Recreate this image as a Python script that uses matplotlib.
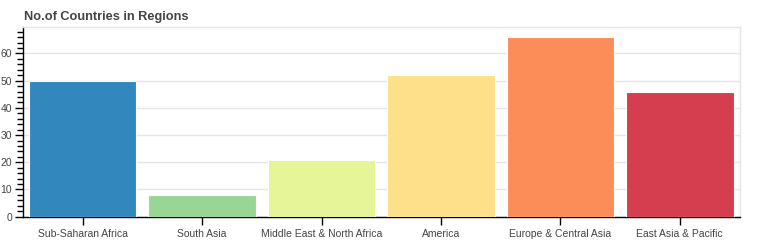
import matplotlib
matplotlib.use("Agg")
import matplotlib.pyplot as plt
from matplotlib.ticker import MultipleLocator

regions = ["Sub-Saharan Africa", "South Asia", "Middle East & North Africa",
           "America", "Europe & Central Asia", "East Asia & Pacific"]
counts = [50, 8, 21, 52, 66, 46]
colors = ["#3288bd", "#99d594", "#e6f598", "#fee08b", "#fc8d59", "#d53e4f"]
title = "No.of Countries in Regions"

plt.rcParams["font.family"] = ["Liberation Sans", "DejaVu Sans"]

fig = plt.figure(figsize=(7.68, 2.4), dpi=100)
ax = fig.add_axes([23 / 768, 23.3 / 240, (739.5 - 23) / 768, (216.7 - 27.3) / 240])

x = list(range(len(regions)))
ax.bar(x, counts, width=0.9, color=colors, edgecolor="white", linewidth=0.8, zorder=3)

ax.set_xlim(-0.5, len(regions) - 0.5)
ax.set_ylim(0, 69.6)
ax.set_xticks(x)
ax.set_xticklabels(regions)
ax.yaxis.set_major_locator(MultipleLocator(10))
ax.yaxis.set_minor_locator(MultipleLocator(2))

ax.grid(axis="y", color="#e5e5e5", linewidth=1, zorder=0)
ax.set_axisbelow(True)

for s in ["top", "right"]:
    ax.spines[s].set_color("#e5e5e5")
    ax.spines[s].set_linewidth(1)
for s in ["left", "bottom"]:
    ax.spines[s].set_color("black")
    ax.spines[s].set_linewidth(1)

ax.tick_params(axis="y", which="major", direction="out", length=6, width=1,
               labelsize=7.5, labelcolor="#444444", pad=2)
ax.tick_params(axis="y", which="minor", direction="out", length=4, width=1)
ax.tick_params(axis="x", which="major", direction="out", length=6, width=1,
               labelsize=7.5, labelcolor="#444444", pad=2.5)

fig.text(24 / 768, 1 - 17 / 240, title, fontsize=9.2, fontweight="bold",
         color="#444444", va="center", ha="left")

fig.savefig("out.png", dpi=100)
